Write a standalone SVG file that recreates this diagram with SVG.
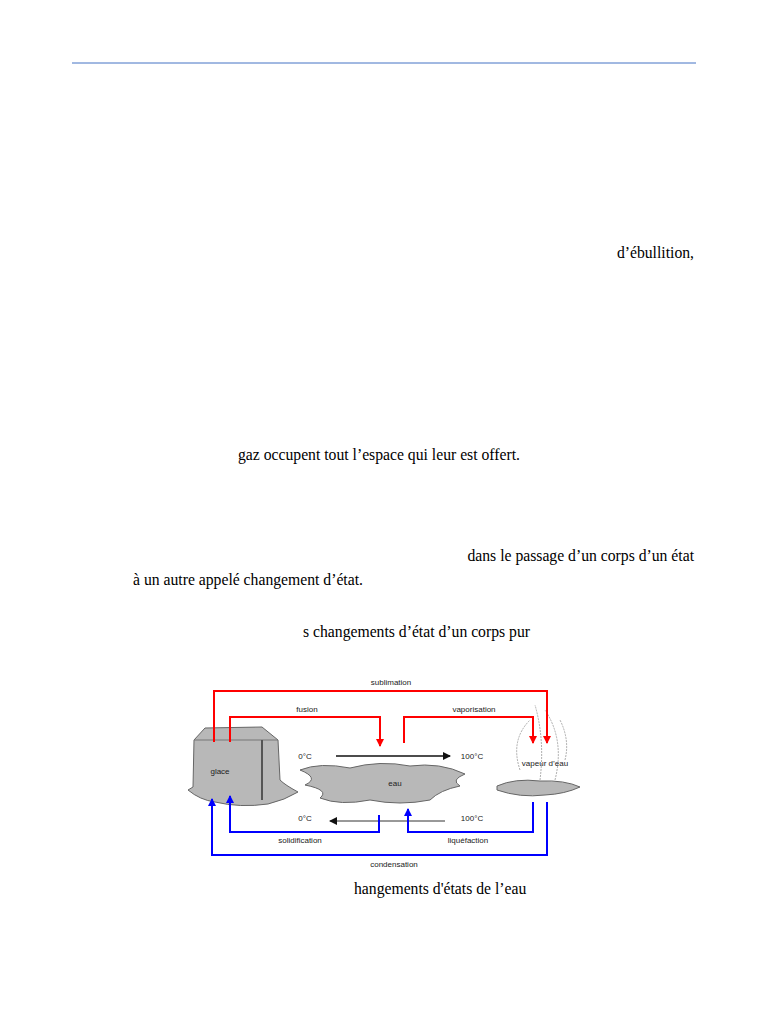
<svg xmlns="http://www.w3.org/2000/svg" width="768" height="1024" viewBox="0 0 768 1024">
<style>
.t{font-family:"Liberation Serif",serif;font-size:15.7px;fill:#000}
.s{font-family:"Liberation Sans",sans-serif;font-size:8px;fill:#222}
.r{fill:none;stroke:#f00;stroke-width:2}
.b{fill:none;stroke:#00f;stroke-width:2}
.p{fill:#b8b8b8;stroke:#666;stroke-width:1}
</style>
<defs>
<marker id="ar" markerWidth="8" markerHeight="8" refX="7" refY="4" orient="auto" markerUnits="userSpaceOnUse"><path d="M0,0L8,4L0,8z" fill="#f00"/></marker>
<marker id="ab" markerWidth="8" markerHeight="8" refX="7" refY="4" orient="auto" markerUnits="userSpaceOnUse"><path d="M0,0L8,4L0,8z" fill="#00f"/></marker>
<marker id="ak" markerWidth="8" markerHeight="8" refX="7" refY="4" orient="auto" markerUnits="userSpaceOnUse"><path d="M0,0L8,4L0,8z" fill="#111"/></marker>
</defs>
<rect width="768" height="1024" fill="#fff"/>
<line x1="72" y1="63" x2="696" y2="63" stroke="#4472c4" stroke-width="1"/>
<text class="t" x="694" y="258" text-anchor="end">d’ébullition,</text>
<text class="t" x="238" y="460">gaz occupent tout l’espace qui leur est offert.</text>
<text class="t" x="694" y="561" text-anchor="end">dans le passage d’un corps d’un état</text>
<text class="t" x="133" y="585">à un autre appelé changement d’état.</text>
<text class="t" x="303" y="637">s changements d’état d’un corps pur</text>
<text class="t" x="354" y="894">hangements d'états de l’eau</text>
<g id="glace">
<path class="p" d="M188,790 Q200,800 215,802 Q240,808 268,804 Q285,800 298,792 Q285,785 280,780 L278,740 L262,727 L205,728 L194,740 L193,787z"/>
<path d="M194,740 L262,740 L278,740" fill="none" stroke="#777"/>
<path d="M262,740 L262,800" fill="none" stroke="#555" stroke-width="2"/>
<text class="s" x="220" y="774" text-anchor="middle">glace</text>
</g>
<g id="eau">
<path class="p" d="M300,770 Q320,762 350,768 Q380,760 410,766 Q440,762 465,774 Q450,780 460,786 Q440,790 430,800 Q400,806 370,800 Q340,806 320,798 Q330,790 305,785 Q320,778 300,770z"/>
<text class="s" x="395" y="786" text-anchor="middle">eau</text>
</g>
<g id="vapeur">
<path class="p" d="M497,786 Q515,778 540,781 Q565,780 580,787 Q565,794 545,795 Q520,798 497,790z"/>
<path d="M520,770 Q510,740 530,720 M540,780 Q545,740 535,705 M555,780 Q565,740 545,710 M565,760 Q570,740 560,720" fill="none" stroke="#999" stroke-width="0.8" stroke-dasharray="2,1"/>
<text class="s" x="545" y="766" text-anchor="middle">vapeur d’eau</text>
</g>
<g id="connectors">
<path class="r" d="M214,742V691H547V743" marker-end="url(#ar)"/>
<path class="r" d="M230,742V717H380V746" marker-end="url(#ar)"/>
<path class="r" d="M404,743V717H533V743" marker-end="url(#ar)"/>
<path d="M336,756H450" stroke="#111" stroke-width="1.5" marker-end="url(#ak)"/>
<path d="M445,821H330" stroke="#333" stroke-width="1" marker-end="url(#ak)"/>
<path class="b" d="M379,815V832H230V796" marker-end="url(#ab)"/>
<path class="b" d="M533,802V832H408V809" marker-end="url(#ab)"/>
<path class="b" d="M547,802V855H212V799" marker-end="url(#ab)"/>
</g>
<g class="s">
<text x="391" y="685" text-anchor="middle">sublimation</text>
<text x="307" y="712" text-anchor="middle">fusion</text>
<text x="474" y="712" text-anchor="middle">vaporisation</text>
<text x="305" y="759" text-anchor="middle">0°C</text>
<text x="472" y="759" text-anchor="middle">100°C</text>
<text x="305" y="821" text-anchor="middle">0°C</text>
<text x="472" y="821" text-anchor="middle">100°C</text>
<text x="300" y="843" text-anchor="middle">solidification</text>
<text x="468" y="843" text-anchor="middle">liquéfaction</text>
<text x="394" y="867" text-anchor="middle">condensation</text>
</g>
</svg>
